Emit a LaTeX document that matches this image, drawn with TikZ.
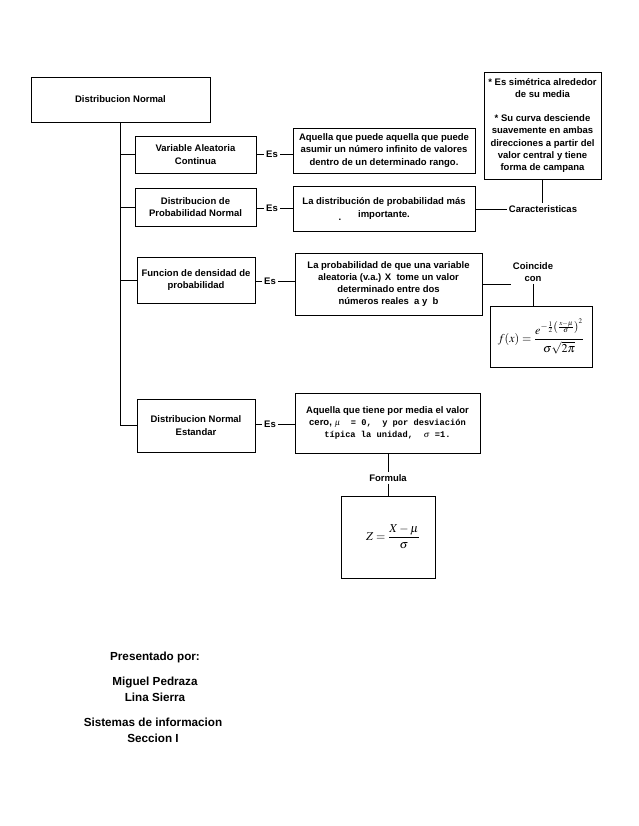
\documentclass[tikz,border=0pt]{standalone}
\usepackage{amsmath}
\usepackage{mathptmx}
\usepackage{fontspec}
\setmainfont{Liberation Sans}
\newfontfamily\monof{Liberation Mono}
\begin{document}
\begin{tikzpicture}[x=1pt,y=-1pt,
  txt/.style={font=\fontsize{9.5}{12.3}\selectfont\bfseries, align=center},
  box/.style={txt, draw, line width=0.8pt, inner sep=0pt},
  lbl/.style={txt, inner sep=2pt},
  ln/.style={line width=0.8pt},
  bot/.style={font=\fontsize{11.7}{14}\selectfont\bfseries, inner sep=0pt}]
\useasboundingbox[fill=white] (0,0) rectangle (638,826);

% main boxes
\node[box, minimum width=179pt, minimum height=45pt] (dn) at (120.5,99.5) {Distribucion Normal};
\node[box, minimum width=121pt, minimum height=37pt] (vac) at (195.5,154.5) {Variable Aleatoria\\Continua};
\node[box, minimum width=121pt, minimum height=38pt] (dpn) at (195.5,207) {Distribucion de\\Probabilidad Normal};
\node[box, minimum width=118pt, minimum height=46pt] (fdp) at (196,280) {Funcion de densidad de\\probabilidad};
\node[box, minimum width=118pt, minimum height=53pt] (dne) at (196,425.5) {Distribucion Normal\\Estandar};

% definitions
\node[box, minimum width=182pt, minimum height=45pt] (aq1) at (384,150.5) {Aquella que puede aquella que puede\\asumir un número infinito de valores\\dentro de un determinado rango.};
\node[box, minimum width=182pt, minimum height=45pt] (ld) at (384,208.5) {La distribución de probabilidad más\\importante.};
\node[lbl, inner sep=0pt] (dot) at (340,220) {.};
\node[box, minimum width=187pt, minimum height=62pt] (lp) at (388.5,284) {La probabilidad de que una variable\\aleatoria (v.a.) X~ tome un valor\\determinado entre dos\\números reales~ a y~ b};
\node[box, minimum width=185pt, minimum height=60pt] (aqt) at (387.5,423) {Aquella que tiene por media el valor\\cero, {\monof\fontsize{8.7}{12.3}\selectfont $\mu$ ~= 0,~ y por desviación}\\{\monof\fontsize{8.7}{12.3}\selectfont típica la unidad,~ $\sigma$ =1.}};

% characteristics
\node[box, minimum width=117pt, minimum height=107pt] (car) at (542.5,125.5) {* Es simétrica alrededor\\de su media\\[12pt]* Su curva desciende\\suavemente en ambas\\direcciones a partir del\\valor central y tiene\\forma de campana};
\node[lbl] (caract) at (543,209) {Caracteristicas};

% coincide
\node[lbl] (coinc) at (533,272) {Coincide\\con};
\node[draw, line width=0.8pt, minimum width=102pt, minimum height=61pt, inner sep=0pt] (cf) at (541,336.5)
  {\fontsize{12}{14}\selectfont $f(x)=\dfrac{e^{-\frac{1}{2}\left(\frac{x-\mu}{\sigma}\right)^{2}}}{\sigma\sqrt{2\pi}}$};

% formula
\node[lbl] (form) at (388,478) {Formula};
\node[draw, line width=0.8pt, minimum width=94pt, minimum height=82pt, inner sep=0pt] (zf) at (388,537)
  {\hspace*{10pt}\fontsize{12}{14}\selectfont $Z=\dfrac{X-\mu}{\sigma}$};

% Es labels
\node[lbl] (es1) at (272,154) {Es};
\node[lbl] (es2) at (272,208) {Es};
\node[lbl] (es3) at (270,281) {Es};
\node[lbl] (es4) at (270,424) {Es};

% trunk
\draw[ln] (dn.south) -- (dn.south |- dne.west) -- (dne.west);
\draw[ln] (dn.south |- vac.west) -- (vac.west);
\draw[ln] (dn.south |- dpn.west) -- (dpn.west);
\draw[ln] (dn.south |- fdp.west) -- (fdp.west);

% Es connectors
\draw[ln] (es1.west -| vac.east) -- (es1.west); \draw[ln] (es1.east) -- (es1.east -| aq1.west);
\draw[ln] (es2.west -| dpn.east) -- (es2.west); \draw[ln] (es2.east) -- (es2.east -| ld.west);
\draw[ln] (es3.west -| fdp.east) -- (es3.west); \draw[ln] (es3.east) -- (es3.east -| lp.west);
\draw[ln] (es4.west -| dne.east) -- (es4.west); \draw[ln] (es4.east) -- (es4.east -| aqt.west);

% other connectors
\draw[ln] (caract.west -| ld.east) -- (caract.west);
\draw[ln] (car.south) -- (car.south |- caract.north);
\draw[ln] (lp.east) -- (coinc.west |- lp.east);
\draw[ln] (coinc.south) -- (coinc.south |- cf.north);
\draw[ln] (form.north |- aqt.south) -- (form.north);
\draw[ln] (form.south) -- (zf.north);

% bottom text
\node[bot] (pres) at (155,657) {Presentado por:};
\node[bot] (mig) at (155,682) {Miguel Pedraza};
\node[bot] (lina) at (155,697) {Lina Sierra};
\node[bot] (sis) at (153,722) {Sistemas de informacion};
\node[bot] (sec) at (153,738) {Seccion I};
\end{tikzpicture}
\end{document}
